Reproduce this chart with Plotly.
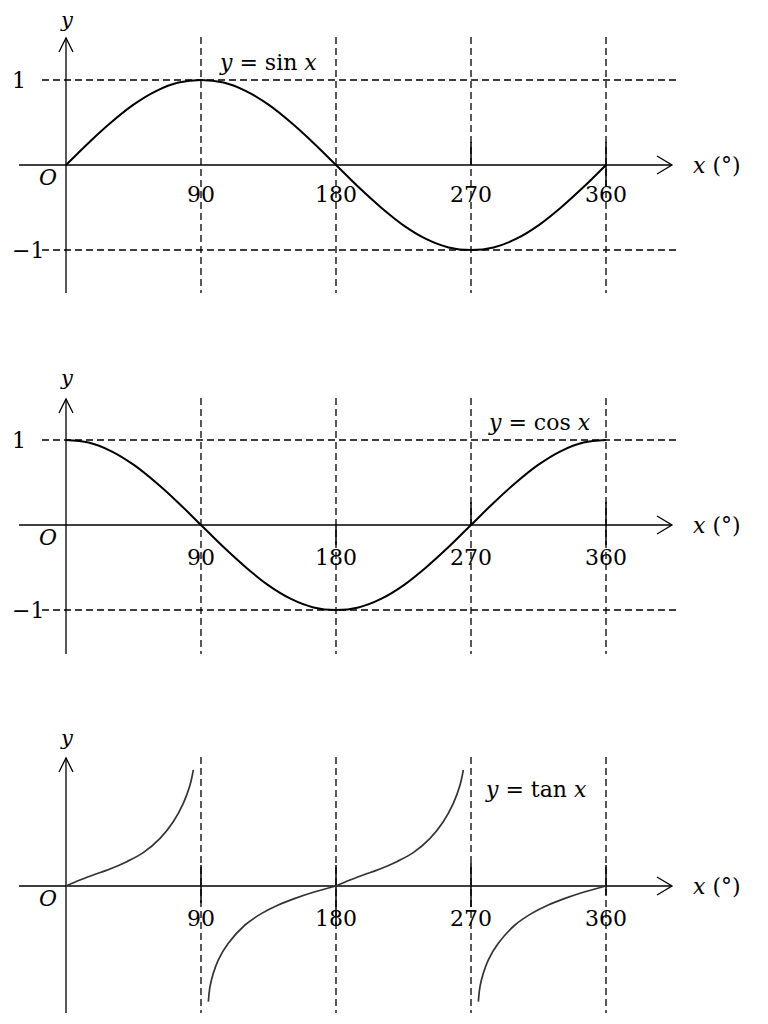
#!/usr/bin/env python3
'''
sin, cos and tan over 0..360 degrees, three stacked sketch panels.
'''
import plotly.graph_objects as go

OUT_HTML = 'out.html'

# values
DEG = [0, 15, 30, 45, 60, 75, 90, 105, 120, 135, 150, 165, 180,
       195, 210, 225, 240, 255, 270, 285, 300, 315, 330, 345, 360]
SIN_Y = [0, 0.26, 0.5, 0.71, 0.87, 0.97, 1, 0.97, 0.87, 0.71, 0.5, 0.26, 0,
         -0.26, -0.5, -0.71, -0.87, -0.97, -1, -0.97, -0.87, -0.71, -0.5, -0.26, 0]
COS_Y = [1, 0.97, 0.87, 0.71, 0.5, 0.26, 0, -0.26, -0.5, -0.71, -0.87, -0.97, -1,
         -0.97, -0.87, -0.71, -0.5, -0.26, 0, 0.26, 0.5, 0.71, 0.87, 0.97, 1]

# tan branches (the sketch stops short of the asymptotes)
TAN_X1 = [0, 9.3, 18.2, 29.3, 40.5, 51.5, 62.7, 71.5, 78.2, 82.7, 84.9]
TAN_Y1 = [0, 0.5, 0.92, 1.42, 2.03, 2.78, 3.97, 5.36, 6.89, 8.42, 9.67]
TAN_X2 = [94.9, 96, 98.2, 101.5, 108.2, 119.3, 130.5, 141.5, 152.7, 163.8, 180]
TAN_Y2 = [-9.64, -8.39, -7.28, -6.17, -4.78, -3.25, -2.28, -1.58, -1.03, -0.56, 0]
TAN_X3 = [180, 189.3, 198.2, 209.3, 220.5, 231.5, 242.7, 251.5, 258.2, 262.7, 264.9]
TAN_Y3 = [0, 0.5, 0.92, 1.42, 2.03, 2.78, 3.97, 5.36, 6.89, 8.42, 9.67]
TAN_X4 = [274.9, 276, 278.2, 281.5, 288.2, 299.3, 310.5, 321.5, 332.7, 343.8, 360]
TAN_Y4 = [-9.64, -8.39, -7.28, -6.17, -4.78, -3.25, -2.28, -1.58, -1.03, -0.56, 0]

TICK_DEG = [90, 180, 270, 360]
TICK_TEXT = ['90', '180', '270', '360']
LEVELS = [1, -1]
LEVEL_TEXT = ['1', '\u22121']

# page is drawn inside the default 8px body margin
PAGE_OFF = 8
W, H = 768 - PAGE_OFF, 1024 - PAGE_OFF
X0_PX, PX_PER_DEG = 66, 1.5
FONT = 'DejaVu Serif'
FS = 22

# one dict per panel, all positions in page pixels
PANELS = [
    {'ax': '', 'zero': 165, 'ppu': 85, 'top': PAGE_OFF, 'bot': 340,
     'ytop': 38, 'ybot': 293, 'levels': True, 'ylab': 20,
     'ticks': [(270, 142, 165), (360, 142, 187)],
     'label': '<i>y</i> = sin <i>x</i>', 'label_px': (268, 62), 'tick_px': 194},
    {'ax': '2', 'zero': 525, 'ppu': 85, 'top': 340, 'bot': 700,
     'ytop': 399, 'ybot': 654, 'levels': True, 'ylab': 378,
     'ticks': [(180, 525, 545), (270, 502, 525), (360, 502, 545)],
     'label': '<i>y</i> = cos <i>x</i>', 'label_px': (539, 422), 'tick_px': 557},
    {'ax': '3', 'zero': 886, 'ppu': 12, 'top': 700, 'bot': 1024,
     'ytop': 758, 'ybot': 1013, 'levels': False, 'ylab': 738,
     'ticks': [(90, 865, 903), (180, 865, 925), (270, 863, 907), (360, 865, 895)],
     'label': '<i>y</i> = tan <i>x</i>', 'label_px': (536, 789), 'tick_px': 918},
]


def xd(px):
    return (px - X0_PX) / PX_PER_DEG


def yd(p, px):
    return (p['zero'] - px) / p['ppu']


def line(p, x0, y0, x1, y1, width=1.3, dash=None):
    ln = {'color': 'black', 'width': width}
    if dash:
        ln['dash'] = dash
    return dict(type='line', xref='x' + p['ax'], yref='y' + p['ax'],
                x0=x0, y0=y0, x1=x1, y1=y1, line=ln, layer='below')


def path(p, pts, width=1.3):
    d = 'M ' + ' L '.join('{},{}'.format(x, y) for x, y in pts)
    return dict(type='path', xref='x' + p['ax'], yref='y' + p['ax'], path=d,
                line={'color': 'black', 'width': width})


def text(p, s, x, y, size=FS, **kw):
    return dict(xref='x' + p['ax'], yref='y' + p['ax'], x=x, y=y, text=s,
                showarrow=False, font={'family': FONT, 'size': size, 'color': 'black'}, **kw)


def main():
    fig = go.Figure()
    curves = [
        (PANELS[0], [(DEG, SIN_Y)], 2, 'black'),
        (PANELS[1], [(DEG, COS_Y)], 2, 'black'),
        (PANELS[2], [(TAN_X1, TAN_Y1), (TAN_X2, TAN_Y2),
                     (TAN_X3, TAN_Y3), (TAN_X4, TAN_Y4)], 1.7, '#333333'),
    ]
    for p, series, w, col in curves:
        for xs, ys in series:
            fig.add_trace(go.Scatter(x=xs, y=ys, mode='lines', line_shape='spline',
                                     line={'color': col, 'width': w},
                                     xaxis='x' + p['ax'], yaxis='y' + p['ax'],
                                     showlegend=False, hoverinfo='skip'))

    shapes = []
    annotations = []
    dash = '7px,4px'
    for p in PANELS:
        # x axis with open arrowhead
        shapes.append(line(p, xd(19), 0, xd(672), 0))
        shapes.append(path(p, [(xd(657), yd(p, p['zero'] - 9)), (xd(672), 0),
                               (xd(657), yd(p, p['zero'] + 9))]))
        # y axis with open arrowhead
        shapes.append(line(p, 0, yd(p, p['ytop']), 0, yd(p, p['ybot'])))
        shapes.append(path(p, [(xd(59), yd(p, p['ytop'] + 14)), (0, yd(p, p['ytop'])),
                               (xd(73), yd(p, p['ytop'] + 14))]))
        # dashed verticals
        for d in TICK_DEG:
            shapes.append(line(p, d, yd(p, p['ytop'] - 1), d, yd(p, p['ybot']),
                               width=1.3, dash=dash))
        # short solid tick marks left in the sketch
        for d, a, b in p['ticks']:
            shapes.append(line(p, d, yd(p, a), d, yd(p, b), width=1.5))
        # dashed levels +-1
        if p['levels']:
            for lv, lt in zip(LEVELS, LEVEL_TEXT):
                shapes.append(line(p, xd(42), lv, xd(676), lv, width=1.3, dash=dash))
                annotations.append(text(p, lt, xd(10), lv, xanchor='left'))
        for d, t in zip(TICK_DEG, TICK_TEXT):
            annotations.append(text(p, t, d, yd(p, p['tick_px'])))
        annotations.append(text(p, '<i>x</i> (\u00b0)', xd(717), 0))
        annotations.append(text(p, '<i>y</i>', xd(67), yd(p, p['ylab']), size=21))
        annotations.append(text(p, '<i>O</i>', xd(48), yd(p, p['zero'] + 12)))
        annotations.append(text(p, p['label'], xd(p['label_px'][0]),
                                yd(p, p['label_px'][1])))

    layout = {
        'width': W, 'height': H,
        'margin': {'l': 0, 'r': 0, 't': 0, 'b': 0},
        'plot_bgcolor': 'white', 'paper_bgcolor': 'white',
        'showlegend': False,
        'shapes': shapes, 'annotations': annotations,
    }
    for p in PANELS:
        layout['xaxis' + p['ax']] = {
            'range': [xd(PAGE_OFF), xd(768)], 'domain': [0, 1], 'visible': False,
            'anchor': 'y' + p['ax'], 'fixedrange': True}
        layout['yaxis' + p['ax']] = {
            'range': [yd(p, p['bot']), yd(p, p['top'])],
            'domain': [1 - (p['bot'] - PAGE_OFF) / H, 1 - (p['top'] - PAGE_OFF) / H],
            'visible': False, 'anchor': 'x' + p['ax'], 'fixedrange': True}
    fig.update_layout(layout)
    fig.write_html(OUT_HTML)


if __name__ == '__main__':
    main()
